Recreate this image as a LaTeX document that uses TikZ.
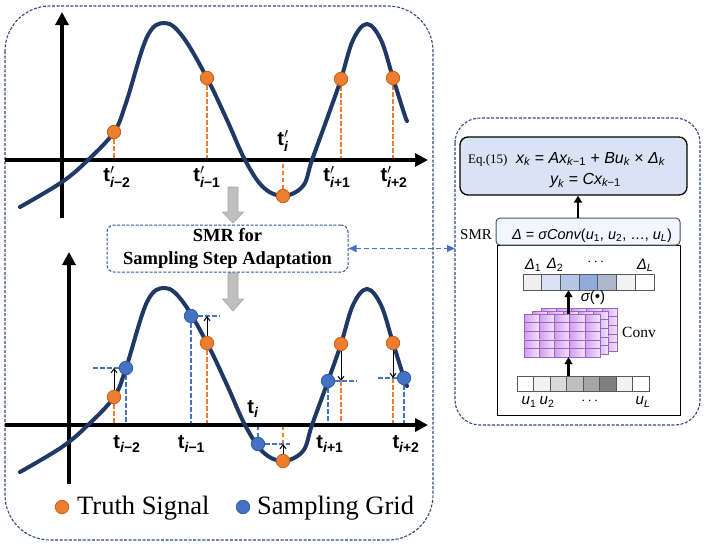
\documentclass[tikz,border=0pt]{standalone}
\usepackage{amsmath}
\usepackage{fontspec}
\setmainfont{Liberation Serif}
\newfontfamily\sfm{Liberation Sans}
\usetikzlibrary{arrows.meta}
\definecolor{navy}{HTML}{1F3864}
\definecolor{org}{HTML}{ED7D31}
\definecolor{orgd}{HTML}{C55A11}
\definecolor{blu}{HTML}{4472C4}
\definecolor{blud}{HTML}{2F5597}
\definecolor{frame}{HTML}{2E4A7A}
\definecolor{eqfill}{HTML}{DAE3F3}
\definecolor{smrfill}{HTML}{F3F6FC}
\definecolor{smrline}{HTML}{44546A}
\definecolor{cellA}{HTML}{D49CEE}
\definecolor{cellB}{HTML}{F1E6FB}
\definecolor{cellL}{HTML}{9A66C4}
\definecolor{garrow}{HTML}{BFBFBF}
\definecolor{garrowd}{HTML}{A6A6A6}
\newcommand\vi[1]{\text{\sfm\itshape #1}}
\newcommand\vu[1]{\text{\sfm #1}}
\newcommand\tb[1]{\text{\sfm\bfseries #1}}
\newcommand\tbi[1]{\text{\sfm\bfseries\itshape #1}}
\tikzset{
  panel/.style={draw=frame, dash pattern=on 3pt off 1.6pt, line width=1.1pt},
  curve/.style={draw=navy, line width=4pt, line cap=round},
  axisline/.style={line width=3.6pt, -{Triangle[length=13pt,width=13pt]}},
  odot/.style={circle, fill=org, draw=orgd, line width=0.7pt, inner sep=0pt, minimum size=13.5pt},
  bdot/.style={circle, fill=blu, draw=blud, line width=0.7pt, inner sep=0pt, minimum size=13.5pt},
  odash/.style={draw=org, dash pattern=on 4.5pt off 2.5pt, line width=1.6pt},
  bdash/.style={draw=blu, dash pattern=on 4.5pt off 2.5pt, line width=1.3pt},
  shiftarrow/.style={-{Straight Barb[length=4pt,width=6pt]}, line width=1pt},
  tlab/.style={font=\sfm\fontsize{20}{22}\selectfont, inner sep=0pt},
  thickarrow/.style={line width=2.2pt, -{Triangle[length=7pt,width=8pt]}},
  mathlab/.style={font=\sfm\fontsize{15}{17}\selectfont, inner sep=0pt},
}
\newcommand\signal{plot[smooth, tension=0.6] coordinates {(20,207) (62,182) (88,160) (114,132) (126,103) (147,37) (165,23) (183,37) (207,78) (227,120) (245,160) (263,187) (283,196) (303,186) (312,160) (328,116) (341,79) (353,40) (367,24) (381,40) (393,78) (404,113) (407,121)}}
\begin{document}
\begin{tikzpicture}[x=1pt,y=-1pt]
\useasboundingbox (0,0) rectangle (714,554);
% ---------- panels ----------
\draw[panel, rounded corners=45pt] (5,6) rectangle (433,540);
\draw[panel, rounded corners=25pt] (455,118) rectangle (700,425);
% ---------- top plot ----------
\coordinate (ax1) at (0,160);
\coordinate (p1) at (114,132);
\coordinate (p2) at (207,78);
\coordinate (p3) at (283,196);
\coordinate (p4) at (341,79);
\coordinate (p5) at (393,78);
\draw[odash] (p1) -- (p1 |- ax1);
\draw[odash] (p2) -- (p2 |- ax1);
\draw[odash] (p3) -- (p3 |- ax1);
\draw[odash] (p4) -- (p4 |- ax1);
\draw[odash] (p5) -- (p5 |- ax1);
\coordinate (xs1) at (5,160);
\coordinate (xe1) at (428,160);
\coordinate (ys1) at (62,218);
\coordinate (ye1) at (62,12);
\draw[axisline] (xs1) -- (xe1);
\draw[axisline] (ys1) -- (ye1);
\draw[curve] \signal;
\foreach \p in {p1,p2,p3,p4,p5} \node[odot] (d\p) at (\p) {};
\node[tlab] (l1) at (117,177) {$\tb{t}'_{\tbi{i}\tb{−2}}$};
\node[tlab] (l2) at (207,177) {$\tb{t}'_{\tbi{i}\tb{−1}}$};
\node[tlab] (l3) at (283,141) {$\tb{t}'_{\tbi{i}}$};
\node[tlab] (l4) at (337,177) {$\tb{t}'_{\tbi{i}\tb{+1}}$};
\node[tlab] (l5) at (394,177) {$\tb{t}'_{\tbi{i}\tb{+2}}$};
% ---------- gray arrows and SMR box ----------
\draw[draw=garrowd, fill=garrow, line width=0.6pt] (228,187) -- (238,187) -- (238,212) -- (243.5,212) -- (233,223) -- (222.5,212) -- (228,212) -- cycle;
\draw[draw=garrowd, fill=garrow, line width=0.6pt] (228,273) -- (238,273) -- (238,299) -- (243.5,299) -- (233,311) -- (222.5,299) -- (228,299) -- cycle;
\node[draw=blud, dash pattern=on 3pt off 1.6pt, line width=1pt, rounded corners=7pt, fill=white,
      minimum width=241pt, minimum height=47pt, align=center,
      font=\bfseries\fontsize{18.5}{23}\selectfont] (smr) at (227.5,248.5) {SMR for\\Sampling Step Adaptation};
\coordinate (rpw) at (455,248.5);
\draw[draw=blu, dash pattern=on 5pt off 3pt, line width=1.1pt,
      {Triangle[length=8pt,width=7pt]}-{Triangle[length=8pt,width=7pt]}] (smr.east) -- (rpw);
% ---------- bottom plot ----------
\coordinate (ax2) at (0,425);
\coordinate (q1) at (114,397);
\coordinate (q2) at (207,343);
\coordinate (q3) at (283,461);
\coordinate (q4) at (341,344);
\coordinate (q5) at (393,343);
\coordinate (b1) at (126,368);
\coordinate (b2) at (191,316);
\coordinate (b3) at (258,444);
\coordinate (b4) at (328,381);
\coordinate (b5) at (404,378);
\coordinate (h1) at (93,368);
\coordinate (h2) at (220,316);
\coordinate (h3) at (290,444);
\coordinate (h4) at (357,381);
\coordinate (h5) at (378,378);
% vertical dashed
\draw[odash] (q1) -- (q1 |- ax2);
\draw[odash] (q2) -- (q2 |- ax2);
\draw[odash] (q3 |- b3) -- (q3 |- ax2);
\draw[odash] (q4 |- b4) -- (q4 |- ax2);
\draw[odash] (q5 |- b5) -- (q5 |- ax2);
\draw[bdash] (b1) -- (b1 |- ax2);
\draw[bdash] (b2) -- (b2 |- ax2);
\draw[bdash] (b3) -- (b3 |- ax2);
\draw[bdash] (b4) -- (b4 |- ax2);
\draw[bdash] (b5) -- (b5 |- ax2);
% horizontal dashed
\draw[bdash] (h1) -- (b1);
\draw[bdash] (b2) -- (h2);
\draw[bdash] (b3) -- (h3);
\draw[bdash] (b4) -- (h4);
\draw[bdash] (h5) -- (b5);
\coordinate (xs2) at (5,425);
\coordinate (xe2) at (428,425);
\coordinate (ys2) at (69,484);
\coordinate (ye2) at (69,252);
\draw[axisline] (xs2) -- (xe2);
\draw[axisline] (ys2) -- (ye2);
\begin{scope}[shift={(0,265)}]
\draw[curve] \signal;
\end{scope}
\foreach \p in {q1,q2,q3,q4,q5} \node[odot] (d\p) at (\p) {};
\foreach \p in {b1,b2,b3,b4,b5} \node[bdot] (d\p) at (\p) {};
% shift arrows
\draw[shiftarrow] (dq1.north) -- (dq1.north |- b1);
\draw[shiftarrow] (dq2.north) -- (dq2.north |- b2);
\draw[shiftarrow] (dq3.north) -- (dq3.north |- b3);
\draw[shiftarrow] (dq4.south) -- (dq4.south |- b4);
\draw[shiftarrow] (dq5.south) -- (dq5.south |- b5);
\node[tlab] (m1) at (127,444) {$\tb{t}_{\tbi{i}\tb{−2}}$};
\node[tlab] (m2) at (191.5,444) {$\tb{t}_{\tbi{i}\tb{−1}}$};
\node[tlab] (m3) at (253,409) {$\tb{t}_{\tbi{i}}$};
\node[tlab] (m4) at (330,444) {$\tb{t}_{\tbi{i}\tb{+1}}$};
\node[tlab] (m5) at (406,444) {$\tb{t}_{\tbi{i}\tb{+2}}$};
% legend
\node[odot] (lg1) at (62,507) {};
\node[anchor=base west, inner sep=0pt, font=\fontsize{26.5}{28}\selectfont] (lt1) at (77,514) {Truth Signal};
\node[bdot] (lg2) at (243,507) {};
\node[anchor=base west, inner sep=0pt, font=\fontsize{26.5}{28}\selectfont] (lt2) at (257,514) {Sampling Grid};
% ---------- right panel ----------
\node[draw=black, line width=1.3pt, fill=eqfill, rounded corners=8pt, minimum width=227pt, minimum height=58pt] (eq) at (573.5,166) {};
\node[anchor=base west, inner sep=0pt, font=\fontsize{13}{15}\selectfont] (eqn) at (468,163) {Eq.(15)};
\node[anchor=base west, inner sep=0pt, font=\sfm\fontsize{16}{18}\selectfont] (eqa) at (516,163)
  {$\vi{x}_{\vi{k}}\vu{ = }\vi{Ax}_{\vi{k}\vu{−1}}\vu{ + }\vi{Bu}_{\vi{k}}\vu{ × }\vi{Δ}_{\vi{k}}$};
\node[anchor=base west, inner sep=0pt, font=\sfm\fontsize{16}{18}\selectfont] (eqb) at (550,184)
  {$\vi{y}_{\vi{k}}\vu{ = }\vi{Cx}_{\vi{k}\vu{−1}}$};
\draw[line width=1pt] (497,245) rectangle (680,415);
\node[draw=smrline, fill=smrfill, line width=1pt, rounded corners=4pt, minimum width=184pt, minimum height=27pt] (smr2) at (588,231.5) {};
\node[anchor=base, inner sep=0pt, font=\sfm\fontsize{14.5}{16}\selectfont] (smrt) at (592,239)
  {$\vi{Δ}\vu{ = }\vi{σConv}\vu{(}\vi{u}_{\vu{1}}\vu{, }\vi{u}_{\vu{2}}\vu{, …, }\vi{u}_{\vi{L}}\vu{)}$};
\node[anchor=base west, inner sep=0pt, font=\fontsize{15}{17}\selectfont] (smrl) at (460,239) {SMR};
\coordinate (arx) at (578,0);
\draw[thickarrow] (arx |- smr2.north) -- (arx |- eq.south);
% top row of Delta cells
\foreach \c [count=\i from 0] in {EFEFEF,DAE3F3,B4C7E7,8FAADC,ADB9CA,F2F2F2,FFFFFF} {
  \definecolor{tmpc}{HTML}{\c}
  \draw[draw=black!65, line width=0.7pt, fill=tmpc] ({523+\i*18.71},274) rectangle ++(18.71,16);
}
\node[minimum width=131pt, minimum height=16pt, inner sep=0pt] (row1) at (588.5,282) {};
\node[mathlab] (dl1) at (533,265) {$\vi{Δ}_{\vu{1}}$};
\node[mathlab] (dl2) at (555,265) {$\vi{Δ}_{\vu{2}}$};
\node[mathlab] (dl3) at (597,262) {$\cdots$};
\node[mathlab] (dl4) at (645,265) {$\vi{Δ}_{\vi{L}}$};
% conv layers
\foreach \k in {2,1,0} {
  \foreach \r in {0,...,4} {
    \foreach \c in {0,...,4} {
      \draw[draw=cellL, line width=0.6pt, left color=cellA, right color=cellB]
        ({524+8.5*\k+15.2*\c},{314-3*\k+8.6*\r}) rectangle ++(15.2,8.6);
    }
  }
}
\node[minimum width=76pt, minimum height=43pt, inner sep=0pt] (conv) at (562,335.5) {};
\node[anchor=base west, inner sep=0pt, font=\fontsize{15.5}{17}\selectfont] (convl) at (622,337) {Conv};
\coordinate (arc) at (568.5,0);
\draw[thickarrow] (arc |- conv.north) -- (arc |- row1.south);
\node[mathlab] (sig) at (593,298) {$\vi{σ}\vu{(•)}$};
% bottom row of u cells
\foreach \c [count=\i from 0] in {FFFFFF,F2F2F2,D9D9D9,BFBFBF,A6A6A6,808080,F2F2F2,FFFFFF} {
  \definecolor{tmpc}{HTML}{\c}
  \draw[draw=black!65, line width=0.7pt, fill=tmpc] ({517+\i*16.5},376) rectangle ++(16.5,15);
}
\node[minimum width=132pt, minimum height=15pt, inner sep=0pt] (row2) at (583,383.5) {};
\draw[thickarrow] (arc |- row2.north) -- (arc |- conv.south);
\node[mathlab] (ul1) at (529,402) {$\vi{u}_{\vu{1}}$};
\node[mathlab] (ul2) at (547,402) {$\vi{u}_{\vu{2}}$};
\node[mathlab] (ul3) at (591,401) {$\cdots$};
\node[mathlab] (ul4) at (643,402) {$\vi{u}_{\vi{L}}$};
\end{tikzpicture}
\end{document}
